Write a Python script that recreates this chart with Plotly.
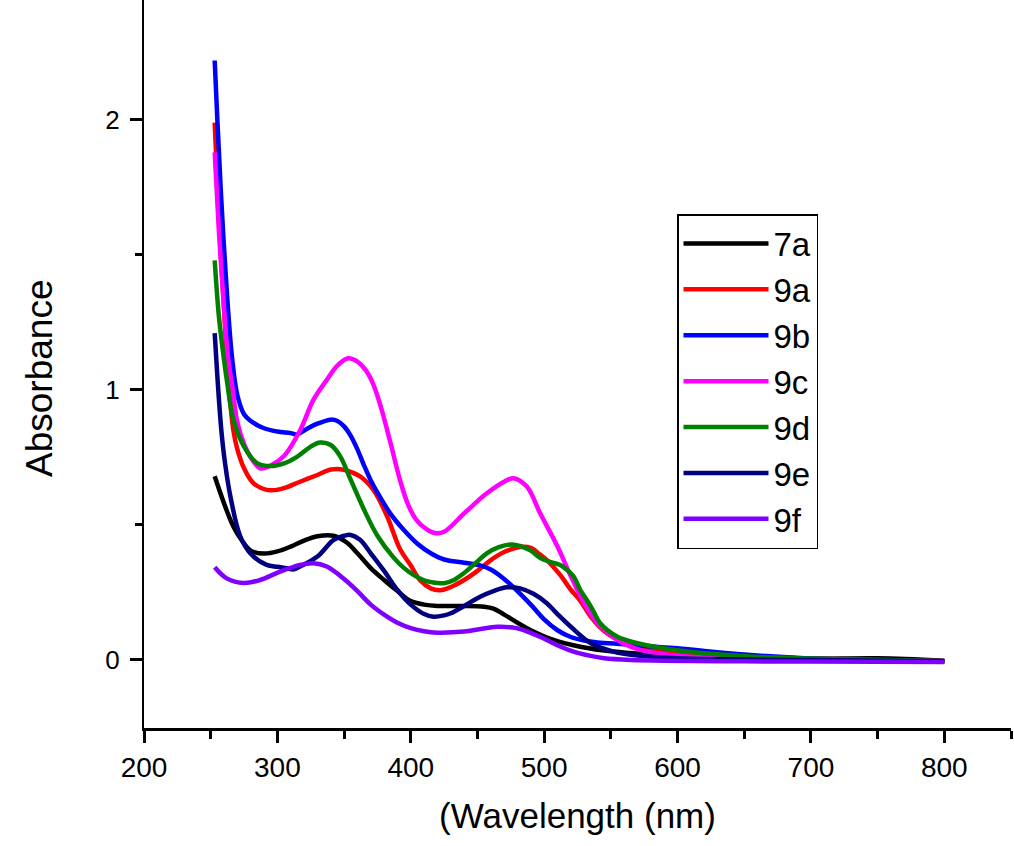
import plotly.graph_objects as go

# ---- data ----
wl_7a = [253, 260, 267, 273, 280, 290, 300, 310, 320, 330, 342, 352, 360, 370, 380, 390, 400, 410, 420, 440, 455, 462, 470, 480, 490, 507, 527, 552, 600, 650, 700, 750, 800]
abs_7a = [0.68, 0.58, 0.494, 0.445, 0.405, 0.394, 0.402, 0.42, 0.442, 0.458, 0.46, 0.435, 0.395, 0.34, 0.296, 0.255, 0.218, 0.205, 0.2, 0.2, 0.197, 0.19, 0.168, 0.138, 0.11, 0.074, 0.049, 0.031, 0.015, 0.008, 0.004, 0.006, -0.003]

wl_9a = [253, 256, 260, 263, 267, 270, 275, 282, 292, 300, 305, 317, 330, 340, 350, 362, 372, 382, 392, 400, 407, 415, 422, 430, 440, 450, 460, 470, 482, 490, 497, 502, 512, 520, 527, 535, 547, 562, 587, 620, 657, 700, 800]
abs_9a = [1.99, 1.65, 1.3, 1.05, 0.85, 0.78, 0.71, 0.655, 0.63, 0.63, 0.636, 0.66, 0.685, 0.705, 0.704, 0.68, 0.63, 0.535, 0.41, 0.35, 0.295, 0.265, 0.258, 0.27, 0.296, 0.33, 0.37, 0.40, 0.418, 0.415, 0.39, 0.37, 0.315, 0.26, 0.22, 0.16, 0.099, 0.062, 0.037, 0.02, 0.012, 0.005, -0.005]

wl_9b = [253, 255, 258, 262, 266, 270, 275, 280, 290, 300, 310, 315, 320, 330, 340, 345, 350, 355, 360, 365, 370, 375, 385, 395, 405, 415, 425, 440, 452, 460, 470, 480, 490, 500, 510, 520, 530, 540, 560, 580, 600, 650, 700, 750, 800]
abs_9b = [2.22, 2.0, 1.7, 1.37, 1.12, 0.98, 0.91, 0.885, 0.858, 0.846, 0.84, 0.835, 0.85, 0.875, 0.89, 0.885, 0.865, 0.83, 0.78, 0.72, 0.665, 0.62, 0.54, 0.48, 0.43, 0.395, 0.372, 0.36, 0.35, 0.335, 0.30, 0.255, 0.205, 0.15, 0.11, 0.085, 0.072, 0.065, 0.058, 0.05, 0.043, 0.02, 0.005, 0.0, -0.005]

wl_9c = [253, 256, 260, 263, 266, 270, 275, 280, 287, 295, 305, 317, 327, 337, 345, 353, 360, 366, 372, 378, 385, 392, 398, 404, 411, 418, 425, 440, 457, 470, 477, 487, 497, 510, 520, 530, 540, 555, 572, 595, 630, 700, 800]
abs_9c = [1.88, 1.6, 1.3, 1.12, 1.02, 0.88, 0.80, 0.75, 0.71, 0.72, 0.755, 0.85, 0.963, 1.037, 1.09, 1.117, 1.105, 1.075, 1.02, 0.93, 0.80, 0.665, 0.575, 0.52, 0.487, 0.47, 0.475, 0.543, 0.617, 0.66, 0.673, 0.642, 0.543, 0.42, 0.31, 0.21, 0.136, 0.074, 0.037, 0.018, 0.006, 0.0, -0.005]

wl_9d = [253, 256, 259, 262, 267, 275, 285, 295, 305, 315, 325, 332, 340, 347, 355, 365, 375, 387, 395, 402, 410, 420, 425, 432, 440, 450, 457, 466, 476, 482, 490, 497, 505, 512, 518, 522, 527, 532, 537, 542, 555, 570, 607, 657, 700, 800]
abs_9d = [1.48, 1.28, 1.15, 1.04, 0.89, 0.79, 0.728, 0.718, 0.728, 0.753, 0.79, 0.805, 0.796, 0.755, 0.667, 0.556, 0.46, 0.38, 0.34, 0.315, 0.295, 0.285, 0.284, 0.295, 0.322, 0.365, 0.395, 0.418, 0.428, 0.422, 0.405, 0.378, 0.362, 0.352, 0.33, 0.31, 0.26, 0.222, 0.18, 0.136, 0.086, 0.062, 0.031, 0.012, 0.005, -0.005]

wl_9e = [253, 255, 258, 261, 265, 272, 280, 292, 300, 307, 312, 317, 330, 342, 350, 355, 362, 370, 380, 390, 400, 410, 417, 425, 430, 440, 452, 462, 472, 482, 492, 502, 510, 520, 535, 552, 565, 600, 700, 800]
abs_9e = [1.21, 1.05, 0.85, 0.72, 0.60, 0.46, 0.393, 0.352, 0.345, 0.34, 0.335, 0.346, 0.383, 0.444, 0.46, 0.463, 0.445, 0.395, 0.33, 0.259, 0.205, 0.17, 0.16, 0.165, 0.173, 0.2, 0.234, 0.255, 0.269, 0.265, 0.245, 0.21, 0.17, 0.123, 0.062, 0.031, 0.019, 0.006, 0.0, -0.005]

wl_9f = [253, 262, 275, 287, 302, 317, 327, 337, 350, 360, 370, 380, 390, 400, 410, 420, 440, 465, 480, 490, 502, 512, 522, 535, 545, 565, 650, 700, 800]
abs_9f = [0.343, 0.302, 0.285, 0.296, 0.327, 0.352, 0.358, 0.346, 0.30, 0.255, 0.205, 0.168, 0.138, 0.118, 0.106, 0.101, 0.105, 0.123, 0.117, 0.1, 0.074, 0.05, 0.031, 0.015, 0.006, 0.0, -0.005, -0.006, -0.008]

series_names = ["7a", "9a", "9b", "9c", "9d", "9e", "9f"]
series_wl = [wl_7a, wl_9a, wl_9b, wl_9c, wl_9d, wl_9e, wl_9f]
series_abs = [abs_7a, abs_9a, abs_9b, abs_9c, abs_9d, abs_9e, abs_9f]
series_colors = ["#000000", "#FF0000", "#0000FF", "#FF00FF", "#008000", "#000080", "#8000FF"]

x_tick_vals = [200, 300, 400, 500, 600, 700, 800]
y_tick_vals = [0, 1, 2]

fig = go.Figure()
for name, wl, ab, col in zip(series_names, series_wl, series_abs, series_colors):
    fig.add_trace(go.Scatter(
        x=wl, y=ab, name=name, mode="lines",
        line=dict(color=col, width=4.5, shape="spline", smoothing=1.0),
    ))

FONT = "Liberation Sans, Arial, sans-serif"

fig.update_layout(
    width=1014, height=846,
    margin=dict(l=144, r=3, t=0, b=118, pad=0),
    paper_bgcolor="white", plot_bgcolor="white",
    font=dict(family=FONT, color="black"),
    showlegend=True,
    legend=dict(
        x=(677 - 144) / 867, y=1 - 214 / 728, xanchor="left", yanchor="top",
        bordercolor="black", borderwidth=1.5, bgcolor="white",
        font=dict(family=FONT, size=33, color="black"),
        itemwidth=85, tracegroupgap=0,
    ),
    xaxis=dict(
        range=[200, 850], tickvals=x_tick_vals, ticks="outside", ticklen=12, tickwidth=2.5,
        tickcolor="black", showline=True, linecolor="black", linewidth=3,
        showgrid=False, zeroline=False, tickfont=dict(size=28, family=FONT),
        minor=dict(dtick=50, tick0=200, ticks="outside", ticklen=8, tickwidth=2.5, tickcolor="black", showgrid=False),
        title=dict(text="(Wavelength (nm)", font=dict(size=35, family=FONT), standoff=22),
    ),
    yaxis=dict(
        range=[-0.252, 2.444], tickvals=y_tick_vals, ticks="outside", ticklen=12, tickwidth=2.5,
        tickcolor="black", showline=True, linecolor="black", linewidth=2,
        showgrid=False, zeroline=False, tickfont=dict(size=26, family=FONT),
        ticklabelstandoff=5,
        minor=dict(dtick=0.5, tick0=0, ticks="outside", ticklen=7, tickwidth=2.5, tickcolor="black", showgrid=False),
    ),
    annotations=[dict(
        text="Absorbance", textangle=-90, showarrow=False,
        xref="paper", yref="paper", x=(40 - 144) / 867, y=(728 - 379) / 728,
        xanchor="center", yanchor="middle",
        font=dict(size=37, family=FONT, color="black"),
    )],
)

fig.write_html("out.html")
